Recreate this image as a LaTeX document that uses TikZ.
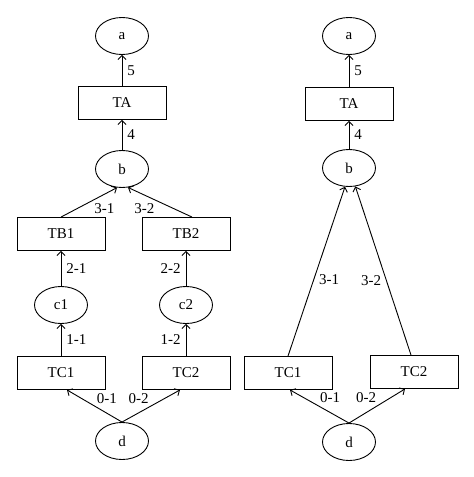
\documentclass[tikz,border=0pt]{standalone}
\usepackage{fontspec}
\setmainfont{Liberation Serif}
\usetikzlibrary{shapes.geometric,arrows.meta}
\newcommand{\arcwidth}{0.9pt}
\newcommand{\weightsep}{2pt}
\tikzset{
place/.style={draw, ellipse, minimum width=53pt, minimum height=37pt, inner sep=0pt, line width=\arcwidth},
trans/.style={draw, rectangle, minimum width=88pt, minimum height=33pt, inner sep=0pt, line width=\arcwidth},
arc/.style={-{Straight Barb[length=4pt,width=8pt]}, line width=\arcwidth},
weight/.style={inner sep=\weightsep}
}
\begin{document}
\begin{tikzpicture}[x=1pt, y=-1pt, font=\fontsize{15}{18}\selectfont]
\useasboundingbox (0,0) rectangle (474,477);
%left net
\node[place] (la) at (122, 36) {a};
\node[trans] (lTA) at (122, 103) {TA};
\node[place] (lb) at (122, 169) {b};
\node[trans] (lTB1) at (61, 234) {TB1};
\node[trans] (lTB2) at (186, 234) {TB2};
\node[place] (lc1) at (61, 305) {c1};
\node[place] (lc2) at (186, 305) {c2};
\node[trans] (lTC1) at (61, 373) {TC1};
\node[trans] (lTC2) at (186, 373) {TC2};
\node[place] (ld) at (122, 441) {d};
\draw[arc] (lTA) -- node[weight, right=3pt] {5} (la);
\draw[arc] (lb) -- node[weight, right=3pt] {4} (lTA);
\draw[arc] (lTB1.north) -- node[weight, pos=.55, below right] {3-1} (lb.255);
\draw[arc] ([xshift=6pt]lTB2.north) -- node[weight, pos=.55, below left] {3-2} (lb.288);
\draw[arc] (lc1) -- node[weight, right=3pt] {2-1} (lTB1);
\draw[arc] (lc2) -- node[weight, left=3pt] {2-2} (lTB2);
\draw[arc] (lTC1) -- node[weight, right=3pt] {1-1} (lc1);
\draw[arc] (lTC2) -- node[weight, left=3pt] {1-2} (lc2);
\draw[arc] (ld.north) -- node[weight, pos=.5, above right] {0-1} ([xshift=6pt]lTC1.south);
\draw[arc] (ld.north) -- node[weight, pos=.5, above left] {0-2} ([xshift=-6pt]lTC2.south);
%right net
\node[place] (ra) at (349, 36) {a};
\node[trans] (rTA) at (349, 104) {TA};
\node[place] (rb) at (349, 168) {b};
\node[trans] (rTC1) at (288, 373) {TC1};
\node[trans] (rTC2) at (414, 372) {TC2};
\node[place] (rd) at (349, 442) {d};
\draw[arc] (rTA) -- node[weight, right=3pt] {5} (ra);
\draw[arc] (rb) -- node[weight, right=3pt] {4} (rTA);
\draw[arc] (rTC1.north) -- node[weight, pos=.45, right=3pt] {3-1} (rb.258);
\draw[arc] ([xshift=-3pt]rTC2.north) -- node[weight, pos=.44, left=3pt] {3-2} (rb.289);
\draw[arc] (rd.north) -- node[weight, pos=.53, above right] {0-1} ([xshift=2pt]rTC1.south);
\draw[arc] (rd.north) -- node[weight, pos=.53, above left] {0-2} ([xshift=-9pt]rTC2.south);
\end{tikzpicture}
\end{document}
